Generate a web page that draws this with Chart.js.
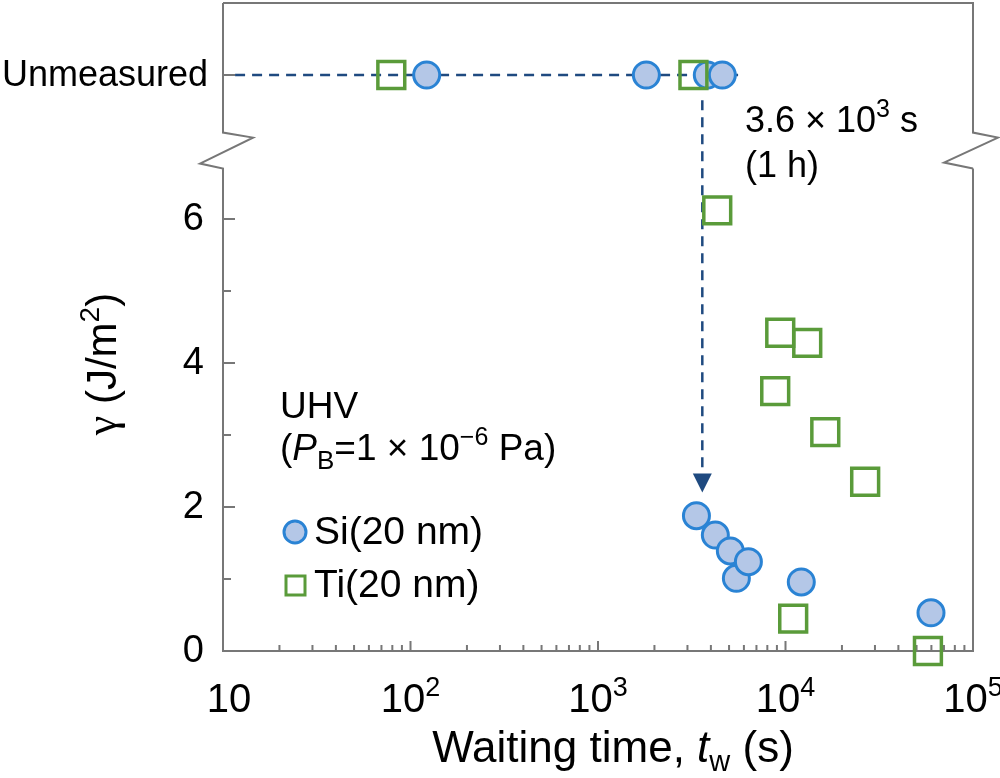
<!DOCTYPE html>
<html>
<head>
<meta charset="utf-8">
<script src="https://cdn.jsdelivr.net/npm/chart.js@4.4.0/dist/chart.umd.min.js"></script>
<style>
  body { margin: 0; background: #fff; }
  #wrap { width: 1000px; height: 778px; position: relative; }
</style>
</head>
<body>
<div id="wrap"><canvas id="chart"></canvas></div>
<script>
// "Unmeasured" samples are parked on their own row at y = 8
const UNMEASURED = 8;
const siTime = [5470, 3350, 4225, 5080, 6340, 12140, 59700];
const siGamma = [1.01, 1.88, 1.61, 1.39, 1.24, 0.96, 0.53];
const tiTime = [4325, 9376, 8813, 13060, 16300, 26600, 10990, 57500];
const tiGamma = [6.12, 4.42, 3.61, 4.28, 3.04, 2.35, 0.45, 0.0];
const siUnmeasuredTime = [122, 1811, 3828, 4603];
const tiUnmeasuredTime = [79, 3228];

const xTicks = [10, 100, 1000, 10000, 100000];
const xTickExp = ['', '2', '3', '4', '5'];
const yTicks = [0, 2, 4, 6];
const yMinorTicks = [1, 3, 5];

// guide lines: 1 h marker and the unmeasured row
const ONE_HOUR = 3600;
const arrowFrom = 7.65, arrowTo = 2.2;
const rowFrom = 11.6, rowTo = 5800;
const breakTop = 7.2, breakBottom = 6.7;

const FONT = '"Liberation Sans", Arial, sans-serif';
const AXIS = '#777777';
const NAVY = '#1f4a80';
const SI_FILL = '#b4c7e7', SI_LINE = '#2a83d4';
const TI_LINE = '#5a9b3a';

function toPts(xs, ys) {
  return xs.map((x, i) => ({ x: x, y: Array.isArray(ys) ? ys[i] : ys }));
}

function fontOf(p) {
  return (p.i ? 'italic ' : '') + p.s + 'px ' + (p.f || FONT);
}

function rich(ctx, parts, x, y, align) {
  let w = 0;
  parts.forEach(p => { ctx.font = fontOf(p); w += ctx.measureText(p.t).width; });
  let cx = align === 'center' ? x - w / 2 : align === 'right' ? x - w : x;
  ctx.textAlign = 'left';
  ctx.textBaseline = 'alphabetic';
  parts.forEach(p => {
    ctx.font = fontOf(p);
    ctx.fillText(p.t, cx, y + (p.dy || 0));
    cx += ctx.measureText(p.t).width;
  });
}

const decor = {
  id: 'decor',
  beforeDatasetsDraw(chart) {
    const ctx = chart.ctx;
    const xs = chart.scales.x, ys = chart.scales.y;
    const a = chart.chartArea;
    const L = a.left, R = a.right, T = a.top, B = a.bottom;
    const b1 = ys.getPixelForValue(breakTop), b2 = ys.getPixelForValue(breakBottom);

    ctx.save();
    ctx.strokeStyle = AXIS;
    ctx.lineWidth = 2;
    ctx.lineJoin = 'miter';
    // left axis with break
    ctx.beginPath();
    ctx.moveTo(L, T); ctx.lineTo(L, b1);
    ctx.lineTo(L + 30, b1 + 5); ctx.lineTo(L - 23, b1 + 31); ctx.lineTo(L, b2);
    ctx.lineTo(L, B); ctx.lineTo(R, B);
    ctx.lineTo(R, b2);
    ctx.stroke();
    // right axis with break
    ctx.beginPath();
    ctx.moveTo(R, b2); ctx.lineTo(R - 29, b1 + 30); ctx.lineTo(R + 25, b1 + 5); ctx.lineTo(R, b1);
    ctx.lineTo(R, T); ctx.lineTo(L, T);
    ctx.stroke();

    // y ticks (inward)
    ctx.beginPath();
    yTicks.concat([UNMEASURED]).forEach(v => {
      const py = ys.getPixelForValue(v);
      ctx.moveTo(L, py); ctx.lineTo(L + 12, py);
    });
    yMinorTicks.forEach(v => {
      const py = ys.getPixelForValue(v);
      ctx.moveTo(L, py); ctx.lineTo(L + 8, py);
    });
    // x ticks (inward), majors and 2..9 minors
    xTicks.forEach((v, i) => {
      const px = xs.getPixelForValue(v);
      ctx.moveTo(px, B); ctx.lineTo(px, B - 10);
      if (i < xTicks.length - 1) {
        for (let m = 2; m <= 9; m++) {
          const mx = xs.getPixelForValue(v * m);
          ctx.moveTo(mx, B); ctx.lineTo(mx, B - 6);
        }
      }
    });
    ctx.stroke();

    // dashed guides
    ctx.strokeStyle = NAVY;
    ctx.lineWidth = 2.5;
    ctx.setLineDash([10, 7]);
    const rowY = ys.getPixelForValue(UNMEASURED);
    ctx.beginPath();
    ctx.moveTo(xs.getPixelForValue(rowFrom), rowY);
    ctx.lineTo(xs.getPixelForValue(rowTo), rowY);
    const ax = xs.getPixelForValue(ONE_HOUR);
    const tip = ys.getPixelForValue(arrowTo);
    ctx.moveTo(ax, ys.getPixelForValue(arrowFrom));
    ctx.lineTo(ax, tip - 19);
    ctx.stroke();
    ctx.setLineDash([]);
    ctx.fillStyle = NAVY;
    ctx.beginPath();
    ctx.moveTo(ax - 9.5, tip - 19); ctx.lineTo(ax + 9.5, tip - 19); ctx.lineTo(ax, tip);
    ctx.closePath();
    ctx.fill();
    ctx.restore();
  },
  afterDatasetsDraw(chart) {
    const ctx = chart.ctx;
    const xs = chart.scales.x, ys = chart.scales.y;
    const a = chart.chartArea;
    ctx.save();
    ctx.fillStyle = '#000';

    // y tick labels
    ctx.font = '38px ' + FONT;
    ctx.textAlign = 'right';
    ctx.textBaseline = 'middle';
    yTicks.forEach(v => ctx.fillText(String(v), a.left - 19, ys.getPixelForValue(v) + 1));
    ctx.font = '36px ' + FONT;
    ctx.fillText('Unmeasured', a.left - 15, ys.getPixelForValue(UNMEASURED) + 1);

    // x tick labels with exponents
    xTicks.forEach((v, i) => {
      const parts = [{ t: '10', s: 40 }];
      if (xTickExp[i]) parts.push({ t: xTickExp[i], s: 27, dy: -16 });
      rich(ctx, parts, xs.getPixelForValue(v) + (i === 0 ? 6 : 0), a.bottom + 61, 'center');
    });

    // axis titles
    rich(ctx, [
      { t: 'Waiting time, ', s: 44 },
      { t: 't', s: 44, i: true },
      { t: 'w', s: 29, dy: 9 },
      { t: ' (s)', s: 44 }
    ], 613, 762, 'center');

    ctx.save();
    ctx.translate(116, 364);
    ctx.rotate(-Math.PI / 2);
    rich(ctx, [
      { t: 'γ', s: 44, f: '"Liberation Serif", serif' },
      { t: ' (J/m', s: 42 },
      { t: '2', s: 28, dy: -17 },
      { t: ')', s: 42 }
    ], 0, 0, 'center');
    ctx.restore();

    // 1 h annotation
    rich(ctx, [
      { t: '3.6 × 10', s: 36 },
      { t: '3', s: 25, dy: -15 },
      { t: ' s', s: 36 }
    ], 745, 132, 'left');
    rich(ctx, [{ t: '(1 h)', s: 36 }], 745, 177, 'left');

    // condition note
    rich(ctx, [{ t: 'UHV', s: 37 }], 280, 418, 'left');
    rich(ctx, [
      { t: '(', s: 37 },
      { t: 'P', s: 37, i: true },
      { t: 'B', s: 26, dy: 9 },
      { t: '=1 × 10', s: 37 },
      { t: '−6', s: 25, dy: -15 },
      { t: ' Pa)', s: 37 }
    ], 280, 460, 'left');

    // legend
    ctx.lineWidth = 3;
    ctx.fillStyle = SI_FILL;
    ctx.strokeStyle = SI_LINE;
    ctx.beginPath();
    ctx.arc(295, 532, 11, 0, Math.PI * 2);
    ctx.fill(); ctx.stroke();
    ctx.strokeStyle = TI_LINE;
    ctx.strokeRect(286, 576, 19, 19);
    ctx.fillStyle = '#000';
    rich(ctx, [{ t: 'Si(20 nm)', s: 39 }], 314, 544, 'left');
    rich(ctx, [{ t: 'Ti(20 nm)', s: 39 }], 314, 597, 'left');
    ctx.restore();
  }
};

new Chart(document.getElementById('chart'), {
  type: 'scatter',
  data: {
    datasets: [
      {
        label: 'Ti(20 nm)',
        data: toPts(tiTime, tiGamma).concat(toPts(tiUnmeasuredTime, UNMEASURED)),
        pointStyle: 'rect',
        pointRadius: 19,
        pointHoverRadius: 19,
        backgroundColor: 'rgba(0,0,0,0)',
        borderColor: TI_LINE,
        borderWidth: 3.5,
        clip: false,
        order: 0
      },
      {
        label: 'Si(20 nm)',
        data: toPts(siTime, siGamma).concat(toPts(siUnmeasuredTime, UNMEASURED)),
        pointStyle: 'circle',
        pointRadius: 13,
        pointHoverRadius: 13,
        backgroundColor: SI_FILL,
        borderColor: SI_LINE,
        borderWidth: 3,
        clip: false,
        order: 1
      }
    ]
  },
  options: {
    responsive: true,
    maintainAspectRatio: false,
    animation: false,
    layout: { autoPadding: false, padding: { left: 223, right: 27, top: 3, bottom: 127 } },
    scales: {
      x: { type: 'logarithmic', min: 10, max: 100000, display: false },
      y: { type: 'linear', min: 0, max: 9, display: false }
    },
    plugins: {
      legend: { display: false },
      tooltip: { enabled: false }
    }
  },
  plugins: [decor]
});
</script>
</body>
</html>
